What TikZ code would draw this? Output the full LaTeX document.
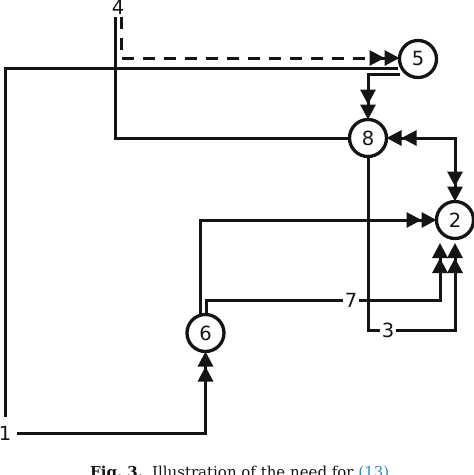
\documentclass[tikz,border=0pt]{standalone}
\usepackage{fontspec}
\setmainfont{DejaVu Sans}
\newfontfamily\capfont{DejaVu Serif}
\usetikzlibrary{arrows.meta,calc}
\definecolor{ink}{RGB}{20,20,20}
\definecolor{reflink}{RGB}{45,140,195}
\tikzset{
  stnode/.style={circle, draw=ink, line width=3.3pt, minimum size=37pt, inner sep=0pt, outer sep=0pt,
    font=\fontsize{19.5}{22}\selectfont, text=ink},
  lab/.style={inner sep=0pt, outer sep=1.5pt, font=\fontsize{19.5}{22}\selectfont, text=ink},
  wire/.style={line width=3pt, draw=ink},
  dbl/.style={-{Triangle[length=15pt,width=15pt]Triangle[length=15pt,width=15pt]}},
  ddbl/.style={{Triangle[length=15pt,width=15pt]Triangle[length=15pt,width=15pt]}-{Triangle[length=15pt,width=15pt]Triangle[length=15pt,width=15pt]}},
  dashline/.style={dash pattern=on 12pt off 9pt}
}
\begin{document}
\begin{tikzpicture}[x=1pt,y=-1pt]
\useasboundingbox (0,0) rectangle (474,475);
% nodes
\node[stnode] (n5) at (418,59) {5};
\node[stnode] (n8) at (368,138) {8};
\node[stnode] (n2) at (455,220) {2};
\node[stnode] (n6) at (205.5,333) {6};
\node[lab, outer sep=3pt] (lab4) at (118,7) {4};
\node[lab] (lab7) at (351,300) {7};
\node[lab] (lab3) at (388,330) {3};
\node[lab, outer sep=0pt] (lab1) at (5,433) {1};
% helper coordinates
\coordinate (c5a) at (398,68);
\coordinate (c5b) at (400,74);
\coordinate (c2a) at (440,243);
\coordinate (c2b) at (455,243);
% connectors
\draw[wire] ([xshift=-3pt]lab4.south) |- (n8.west);
\draw[wire,dashline,dbl] ([xshift=3pt]lab4.south) |- ([yshift=1pt]n5.west);
\draw[wire] ([yshift=9pt]lab1.north) |- (c5a);
\draw[wire,dbl] ([xshift=6pt]lab1.east) -| (n6.south);
\draw[wire,dbl] (c5b) -| (n8.north);
\draw[wire,ddbl] (n8.east) -| (n2.north);
\draw[wire] (n8.south) |- (lab3.west);
\draw[wire,dbl] (lab3.east) -| (c2b);
\draw[wire,dbl] ([xshift=-5.5pt]n6.north) |- (n2.west);
\draw[wire] ([xshift=0.5pt]n6.north) |- (lab7.west);
\draw[wire,dbl] (lab7.east) -| (c2a);
% caption (cut by the page edge as in the reference)
\node[anchor=base west, inner sep=0pt, font=\capfont\fontsize{15}{18}\selectfont, text=ink] (cap) at (90,477)
  {\textbf{Fig.~3.}\hspace{0.6em}Illustration of the need for \textcolor{reflink}{(13)}};
\end{tikzpicture}
\end{document}
